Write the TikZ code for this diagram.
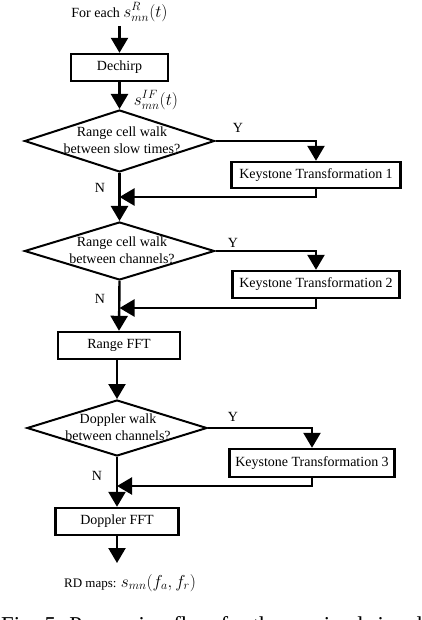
\documentclass[tikz,border=0pt]{standalone}
\usepackage{fontspec}
\setmainfont{Liberation Serif}
\usetikzlibrary{arrows.meta,shapes.geometric}

\newcommand{\bigmath}[1]{{\fontsize{18}{20}\selectfont$#1$}}

\begin{document}
\begin{tikzpicture}[x=1pt,y=-1pt,line width=2.4pt,
	every node/.style={font=\fontsize{14}{16.5}\selectfont},
	box/.style={draw,rectangle,minimum height=27pt,inner sep=0pt},
	dec/.style={draw,diamond,inner sep=0pt,line width=2pt},
	txt/.style={inner sep=0pt,align=center},
	arr/.style={-{Triangle[length=15pt,width=17pt]}}]
\useasboundingbox (0,0) rectangle (422,620);

\node (start) at (119.5,12) {For each \bigmath{s^{R}_{mn}(t)}};
\node[box,minimum width=97pt] (dechirp) at (119.5,67.5) {Dechirp};
\node (sif) at (156,100) {\bigmath{s^{IF}_{mn}(t)}};

% first check
\node[dec,minimum width=190pt,minimum height=62pt] (d1) at (119.5,141) {};
\node[txt] (t1) at (122,140) {Range cell walk\\between slow times?};
\node[box,minimum width=169pt,minimum height=26pt] (kt1) at (316,175) {Keystone Transformation 1};
\coordinate (m1) at (119.5,197);
\node (y1) at (238,128) {Y};
\node (n1) at (100,188) {N};

% second check
\node[dec,minimum width=190pt,minimum height=58pt] (d2) at (119.5,251) {};
\node[txt] (t2) at (122,250) {Range cell walk\\between channels?};
\node[box,minimum width=167pt] (kt2) at (316,284.5) {Keystone Transformation 2};
\coordinate (m2) at (119.5,308);
\node (y2) at (233,243) {Y};
\node (n2) at (100,299) {N};

\node[box,minimum width=122pt] (rfft) at (119,345.5) {Range FFT};

% third check
\node[dec,minimum width=180pt,minimum height=56pt] (d3) at (117,428) {};
\node[txt] (t3) at (118,427) {Doppler walk\\between channels?};
\node[box,minimum width=165pt,minimum height=28pt] (kt3) at (312,463) {Keystone Transformation 3};
\coordinate (m3) at (117,486);
\node (y3) at (233,417) {Y};
\node (n3) at (97,476) {N};

\node[box,minimum width=123pt] (dfft) at (117,521.5) {Doppler FFT};
\coordinate (out) at (117,563);
\node[font=\fontsize{13}{15}\selectfont] (rd) at (130,583) {RD maps: \bigmath{s_{mn}(f_a,f_r)}};
\node[anchor=base west,inner sep=0pt,font=\fontsize{22.7}{26}\selectfont] (cap) at (0,632) {Fig. 5. Processing flow for the received signal};

\draw[arr] (start) -- (dechirp);
\draw[arr] (dechirp) -- (d1.north);
\draw[arr] (d1.east) -| (kt1.north);
\draw[arr] (kt1.south) |- (m1);
\draw[arr] (d1.south) -- (d2.north);
\draw[arr] (d2.east) -| (kt2.north);
\draw[arr] (kt2.south) |- (m2);
\draw[arr] (d2.south) -- (rfft.north);
\draw[arr] (rfft.south -| d3.north) -- (d3.north);
\draw[arr] (d3.east) -| (kt3.north);
\draw[arr] (kt3.south) |- (m3);
\draw[arr] (d3.south) -- (dfft.north);
\draw[arr] (dfft.south) -- (out);
\end{tikzpicture}
\end{document}
